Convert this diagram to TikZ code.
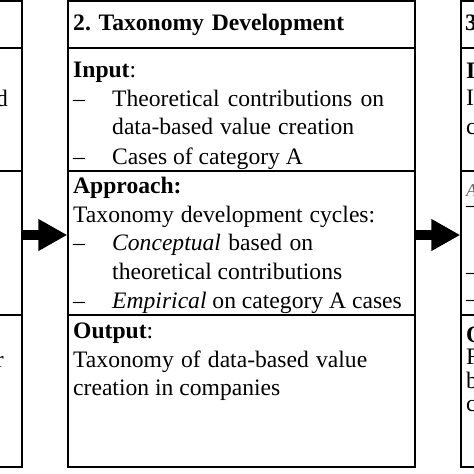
\documentclass[tikz,border=0pt]{standalone}
\usepackage{fontspec}
\setmainfont{Liberation Serif}
\usetikzlibrary{arrows.meta}
\frenchspacing
\begin{document}
\begin{tikzpicture}[x=1pt,y=-1pt,
  boxnode/.style={draw=black, line width=1.4pt, rectangle, inner sep=0pt},
  divline/.style={draw=black, line width=1.4pt},
  txt/.style={anchor=base west, inner sep=0pt, font=\fontsize{23.6}{28}\selectfont},
  txtr/.style={anchor=base east, inner sep=0pt, font=\fontsize{23.6}{28}\selectfont},
  bigarrow/.style={line width=10pt, -{Triangle[length=29pt,width=30pt]}}
]
\useasboundingbox (0,0) rectangle (474,474);
\clip (0,0) rectangle (474,474);
\fill[white] (0,0) rectangle (474,474);
% boxes
\node[boxnode, minimum width=82pt, minimum height=466pt] (b1) at (-19,234) {};
\node[boxnode, minimum width=347pt, minimum height=466pt] (b2) at (241.5,234) {};
\node[boxnode, minimum width=79pt, minimum height=466pt] (b3) at (500.5,234) {};
% dividers
\foreach \b in {b1,b2,b3}{
  \foreach \yy in {48,171,315}{
    \draw[divline] (\b.west |- 0,\yy) -- (\b.east |- 0,\yy);
  }
}
% arrows
\coordinate (a1) at (0,235);
\draw[bigarrow] (b1.east |- a1) -- (b2.west |- a1);
\draw[bigarrow] (b2.east |- a1) -- (b3.west |- a1);
% middle box text
\node[txt] (t0) at (73,30) {\makebox[271pt][s]{\textbf{2. Taxonomy Development}}};
\node[txt] (t1) at (73,77) {\textbf{Input}:};
\node[txt] (d1) at (73,106) {–};
\node[txt] (t2) at (112,106) {\makebox[272pt][s]{Theoretical contributions on}};
\node[txt] (t3) at (112,134) {\makebox[242pt][s]{data-based value creation}};
\node[txt] (d2) at (73,164) {–};
\node[txt] (t4) at (112,164) {Cases of category A};
\node[txt] (t5) at (73,193) {\textbf{Approach:}};
\node[txt] (t6) at (73,222) {\makebox[302pt][s]{Taxonomy development cycles:}};
\node[txt] (d3) at (73,250) {–};
\node[txt] (t7) at (112,250) {\makebox[201pt][s]{\textit{Conceptual} based on}};
\node[txt] (t8) at (112,279) {theoretical contributions};
\node[txt] (d4) at (73,308) {–};
\node[txt] (t9) at (112,308) {\textit{Empirical} on category A cases};
\node[txt] (t10) at (73,338) {\textbf{Output}:};
\node[txt] (t11) at (73,367) {\makebox[294pt][s]{Taxonomy of data-based value}};
\node[txt] (t12) at (73,395) {creation in companies};
% left box fragments
\node[txtr] (l1) at (8,106) {d};
\node[txtr] (l2) at (4,367) {r};
% right box fragments
\node[txt] (r0) at (465,30) {\textbf{3}};
\node[txt] (r1) at (466,78) {\textbf{I}};
\node[txt] (r2) at (466,105) {I};
\node[txt] (r3) at (466,134) {c};
\node[txt, font=\fontsize{18}{22}\selectfont\itshape, text=black!60] (r4) at (466,196) {A};
\node[txt] (r5) at (466,212) {–};
\node[txt] (r6) at (466,279) {–};
\node[txt] (r7) at (466,306) {–};
\node[txt] (r8) at (466,342) {\textbf{O}};
\node[txt] (r9) at (466,364) {F};
\node[txt] (r10) at (466,388) {b};
\node[txt] (r11) at (466,411) {c};
\end{tikzpicture}
\end{document}
